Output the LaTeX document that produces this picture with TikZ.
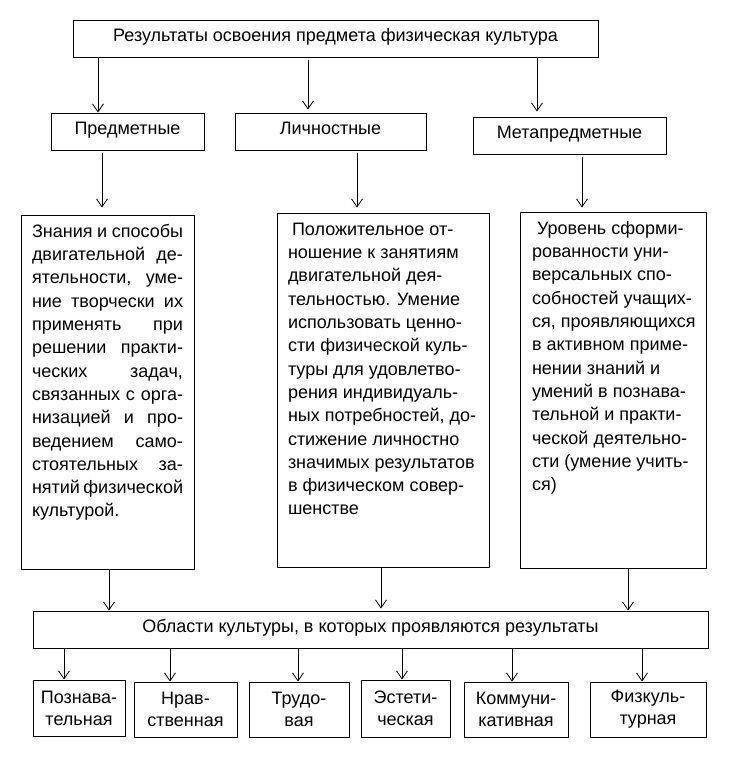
\documentclass[tikz,border=0pt]{standalone}
\usepackage{fontspec}
\setmainfont{Liberation Sans}
\usetikzlibrary{arrows.meta}
\tikzset{
    %Define standard arrow tip
    >={Straight Barb[length=8pt,width=11pt]},
    %Define style for boxes
    punktrect/.style={
    rectangle,
    draw=black, line width=0.9pt,
    inner sep=0pt,
    font=\fontsize{18}{22}\selectfont,
    text centered},
    % one line boxes
    tittel/.style={
    punktrect,
    text height=21pt,
    text depth=16pt},
    % big boxes with text from the top
    tekst/.style={
    punktrect,
    inner ysep=6pt,
    font=\fontsize{18}{23.3}\selectfont},
    % Define arrow style
    pil/.style={
           ->,
           line width=0.8pt}
}

\begin{document}
\begin{tikzpicture}[x=1pt,y=-1pt]
\useasboundingbox (0,0) rectangle (742,760);
\node[tittel, minimum width=525pt](res) at (335.5,39) {Результаты освоения предмета физическая культура};
\node[tittel, minimum width=153pt](pred) at (127.5,131.5) {Предметные};
\node[tittel, minimum width=191pt](lich) at (330.5,131.5) {Личностные};
\node[tittel, minimum width=193pt](meta) at (569.5,135.5) {Метапредметные};
\node[tekst, minimum width=173pt, minimum height=354pt](kunn) at (107.5,392) {\parbox[c][342pt][t]{151pt}{%
\begin{tabular}[t]{@{}l@{}}
\makebox[151pt][s]{Знания и способы}\\
\makebox[151pt][s]{двигательной де-}\\
\makebox[151pt][s]{ятельности, уме-}\\
\makebox[151pt][s]{ние творчески их}\\
\makebox[151pt][s]{применять при}\\
\makebox[151pt][s]{решении практи-}\\
\makebox[151pt][s]{ческих задач,}\\
\makebox[151pt][s]{связанных с орга-}\\
\makebox[151pt][s]{низацией и про-}\\
\makebox[151pt][s]{ведением само-}\\
\makebox[151pt][s]{стоятельных за-}\\
\makebox[151pt][s]{нятий физической}\\
культурой.
\end{tabular}}};
\node[tekst, minimum width=212pt, minimum height=354pt](pers) at (383,390) {\parbox[c][342pt][t]{190pt}{%
\begin{tabular}[t]{@{}l@{}}
\hspace{4pt}Положительное от-\\
ношение к занятиям\\
двигательной дея-\\
тельностью. Умение\\
использовать ценно-\\
сти физической куль-\\
туры для удовлетво-\\
рения индивидуаль-\\
ных потребностей, до-\\
стижение личностно\\
значимых результатов\\
в физическом совер-\\
шенстве
\end{tabular}}};
\node[tekst, minimum width=186pt, minimum height=356pt](univ) at (613,390) {\parbox[c][344pt][t]{162pt}{%
\begin{tabular}[t]{@{}l@{}}
\hspace{5pt}Уровень сформи-\\
рованности уни-\\
версальных спо-\\
собностей учащих-\\
ся, проявляющихся\\
в активном приме-\\
нении знаний и\\
умений в познава-\\
тельной и практи-\\
ческой деятельно-\\
сти (умение учить-\\
ся)
\end{tabular}}};
\node[tittel, minimum width=675pt](omr) at (370.5,629.5) {Области культуры, в которых проявляются результаты};
\node[punktrect, minimum width=92pt, minimum height=56pt, align=center](poz) at (79,708) {Познава-\\тельная};
\node[punktrect, minimum width=103pt, minimum height=55pt, align=center](nrav) at (185.5,709.5) {Нрав-\\ственная};
\node[punktrect, minimum width=100pt, minimum height=55pt, align=center](trud) at (299,709.5) {Трудо-\\вая};
\node[punktrect, minimum width=89pt, minimum height=57pt, align=center](est) at (405.5,708.5) {Эстети-\\ческая};
\node[punktrect, minimum width=104pt, minimum height=55pt, align=center](komm) at (516,709.5) {Коммуни-\\кативная};
\node[punktrect, minimum width=116pt, minimum height=55pt, align=center](fys) at (648,709.5) {Физкуль-\\турная};
% arrows
\draw[pil] (res.south -| 98,0) -- (pred.north -| 98,0);
\draw[pil, shorten <=2pt, shorten >=3pt] (res.south -| 308,0) -- (lich.north -| 308,0);
\draw[pil, shorten >=5pt] (res.south -| 537,0) -- (meta.north -| 537,0);
\draw[pil, shorten <=3pt, shorten >=7pt] (pred.south -| 102,0) -- (kunn.north -| 102,0);
\draw[pil, shorten <=3pt, shorten >=5pt] (lich.south -| 357,0) -- (pers.north -| 357,0);
\draw[pil, shorten <=3pt, shorten >=4pt] (meta.south -| 582,0) -- (univ.north -| 582,0);
\draw[pil] (kunn.south -| 109,0) -- (omr.north -| 109,0);
\draw[pil, shorten >=2pt] (pers.south -| 381,0) -- (omr.north -| 381,0);
\draw[pil] (univ.south -| 628,0) -- (omr.north -| 628,0);
\foreach \n/\x in {poz/64,nrav/170,trud/298,est/402,komm/512,fys/642}
  \draw[pil] (omr.south -| \x,0) -- (\n.north -| \x,0);
\end{tikzpicture}
\end{document}
